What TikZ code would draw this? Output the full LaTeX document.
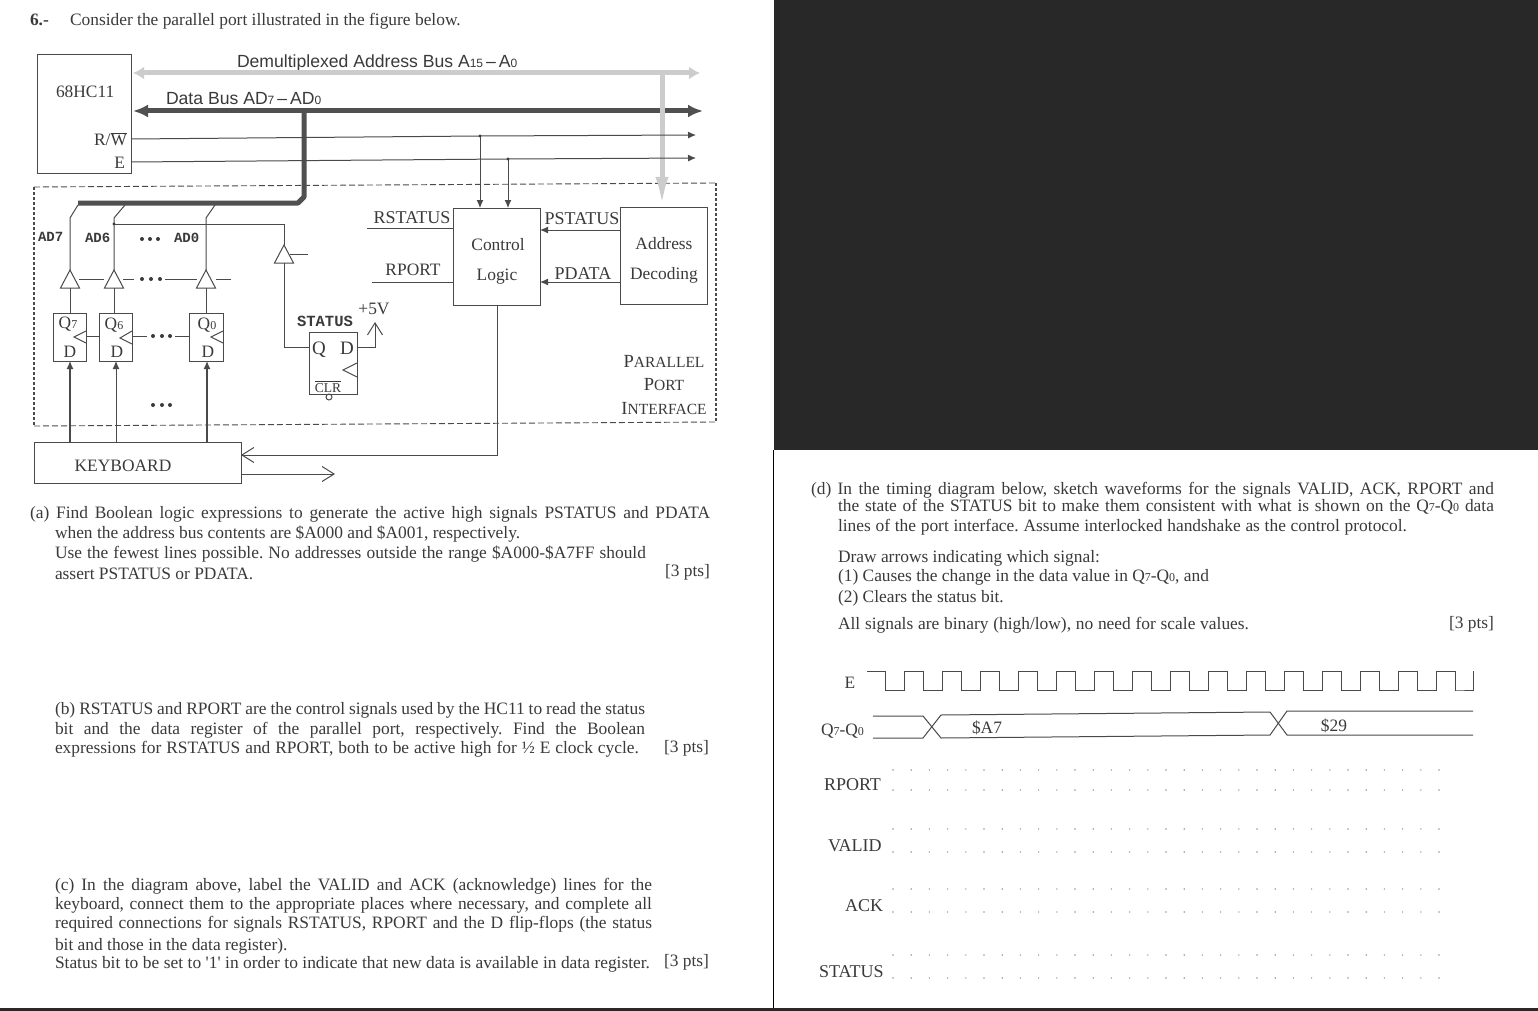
\documentclass[tikz,border=0pt]{standalone}
\usepackage{fontspec}
\setmainfont{Liberation Serif}
\setsansfont{Liberation Sans}
\setmonofont{Liberation Mono}
\usetikzlibrary{arrows.meta}
\definecolor{ink}{HTML}{3A3A3A}
\definecolor{lineg}{HTML}{4A4A4A}
\definecolor{addr}{HTML}{CCCCCC}
\definecolor{databus}{HTML}{505050}
\definecolor{panel}{HTML}{282828}
\newcommand{\body}{\frenchspacing\fontsize{17.4}{19}\selectfont}
\newcommand{\bigt}{\fontsize{18}{19}\selectfont}
\newcommand{\sm}[1]{{\fontsize{12}{12}\selectfont #1}}
\newcommand{\tl}[4]{\node[txt] (#1) at (#2,#3) {#4};}
\newcommand{\jl}[5]{\node[txt] (#1) at (#2,#3) {\hbox to #4pt{#5}};}
\newcommand{\rl}[4]{\node[txt,anchor=base east] (#1) at (#2,#3) {#4};}
\newcommand{\cl}[4]{\node[txt,anchor=base] (#1) at (#2,#3) {#4};}
\newcommand{\threedots}[3]{\foreach \dx in {#1,#2,#3}{\fill[ink] (\dx,\dotY) circle (2);}}
\newcommand{\dotrow}[1]{\foreach \k in {0,...,30}{\fill[black!40] (893+18.2*\k,#1) circle (.8);}}
\tikzset{
 txt/.style={anchor=base west,inner sep=0pt,outer sep=0pt,text=ink,font=\body},
 boxn/.style={draw=lineg,line width=1pt,inner sep=0pt,outer sep=0pt,anchor=north west},
 lin/.style={draw=lineg,line width=1pt},
 arr/.style={lin,-{Latex[length=8pt,width=7pt]}},
 openarr/.style={lin,-{Straight Barb[length=12pt,width=15pt,line width=1pt]}},
 sanslab/.style={txt,font=\sffamily\fontsize{17.6}{20}\selectfont},
 monolab/.style={txt,font=\ttfamily\bfseries\fontsize{14}{16}\selectfont},
 buslight/.style={draw=addr,line width=5pt},
 busdark/.style={draw=databus,line width=5pt},
}
\begin{document}
\begin{tikzpicture}[x=1pt,y=-1pt]
\useasboundingbox (0,0) rectangle (1538,1011);
\fill[white] (0,0) rectangle (1538,1011);
% page furniture
\fill[panel] (774,0) rectangle (1538,450);
\draw[black,line width=1pt] (773.5,450) -- (773.5,1008);
\fill[panel] (0,1008) rectangle (1538,1011);

% text, left column
\tl{q6}{30}{26}{\textbf{6.-}}
\tl{q6b}{70}{26}{Consider the parallel port illustrated in the figure below.}
\jl{a1}{30}{518}{680}{(a) Find Boolean logic expressions to generate the active high signals PSTATUS and PDATA}
\tl{a2}{55}{538}{when the address bus contents are \$A000 and \$A001, respectively.}
\jl{a3}{55}{558}{591}{Use the fewest lines possible. No addresses outside the range \$A000-\$A7FF should}
\tl{a4}{55}{579}{assert PSTATUS or PDATA.}
\rl{a5}{710}{576}{[3 pts]}
\jl{b1}{55}{714}{590}{(b) RSTATUS and RPORT are the control signals used by the HC11 to read the status}
\jl{b2}{55}{734}{590}{bit and the data register of the parallel port, respectively. Find the Boolean}
\jl{b3}{55}{753}{584}{expressions for RSTATUS and RPORT, both to be active high for ½ E clock cycle.}
\rl{b4}{709}{752}{[3 pts]}
\jl{c1}{55}{890}{597}{(c) In the diagram above, label the VALID and ACK (acknowledge) lines for the}
\jl{c2}{55}{909}{597}{keyboard, connect them to the appropriate places where necessary, and complete all}
\jl{c3}{55}{928}{597}{required connections for signals RSTATUS, RPORT and the D flip-flops (the status}
\tl{c4}{55}{950}{bit and those in the data register).}
\jl{c5}{55}{968}{595}{Status bit to be set to \textquotesingle 1\textquotesingle{} in order to indicate that new data is available in data register.}
\rl{c6}{709}{966}{[3 pts]}

% text, right column
\jl{d1}{811}{494}{683}{(d) In the timing diagram below, sketch waveforms for the signals VALID, ACK, RPORT and}
\jl{d2}{838}{511}{656}{the state of the STATUS bit to make them consistent with what is shown on the Q\sm{7}-Q\sm{0} data}
\jl{d3}{838}{531}{569}{lines of the port interface. Assume interlocked handshake as the control protocol.}
\tl{d4}{838}{562}{Draw arrows indicating which signal:}
\tl{d5}{838}{581}{(1) Causes the change in the data value in Q\sm{7}-Q\sm{0}, and}
\tl{d6}{838}{602}{(2) Clears the status bit.}
\jl{d7}{838}{629}{411}{All signals are binary (high/low), no need for scale values.}
\rl{d8}{1494}{628}{[3 pts]}

% timing diagram
\cl{tE}{850}{688}{E}
\tl{tQ}{821}{735}{Q\sm{7}-Q\sm{0}}
\cl{tA7}{987}{733}{\$A7}
\cl{t29}{1334}{731}{\$29}
\tl{tR}{824}{790}{\bigt RPORT}
\tl{tV}{828}{851}{\bigt VALID}
\tl{tK}{845}{911}{\bigt ACK}
\tl{tS}{819}{977}{\bigt STATUS}
\draw[lin] (867,671) -- (885,671)
 \foreach \k in {0,...,14}{ -- ({885+38.06*\k},690) -- ({904+38.06*\k},690) -- ({904+38.06*\k},671) -- ({923.06+38.06*\k},671) -- ({923.06+38.06*\k},690)}
 -- (1456,690) -- (1473,690) -- (1473,671);
\draw[lin] (873,716) -- (923,716) -- (941,738) -- (1270,735) -- (1287,711) -- (1473,711);
\draw[lin] (873,738) -- (923,738) -- (941,715) -- (1270,712) -- (1287,735) -- (1473,735);
\dotrow{770}\dotrow{790}\dotrow{829}\dotrow{852}\dotrow{889}\dotrow{912}\dotrow{955}\dotrow{978}

% dashed interface box
\draw[lineg,line width=.9pt,dash pattern=on 6pt off 3pt] (34,187) -- (716,183);
\draw[lineg,line width=.9pt,dash pattern=on 6pt off 3pt] (34,426) -- (716,422);
\draw[lineg,line width=1.1pt,dash pattern=on 3pt off 2pt] (34,187) -- (34,426);
\draw[lineg,line width=1.1pt,dash pattern=on 3pt off 2pt] (716,183) -- (716,422);

% main boxes
\node[boxn,minimum width=94pt,minimum height=119pt] (hc) at (37,55) {};
\node[boxn,minimum width=87pt,minimum height=97pt] (ctl) at (453,208) {};
\node[boxn,minimum width=87pt,minimum height=97pt] (dec) at (620,207) {};
\node[boxn,minimum width=207pt,minimum height=41pt] (kb) at (34,442) {};
\node[boxn,minimum width=48pt,minimum height=62pt] (st) at (309,332) {};
\node[boxn,minimum width=33pt,minimum height=48pt] (f7) at (53,313) {};
\node[boxn,minimum width=33pt,minimum height=48pt] (f6) at (99,313) {};
\node[boxn,minimum width=34pt,minimum height=48pt] (f0) at (189,313) {};

\tl{hcT}{56}{98}{68HC11}
\rl{rw}{127}{146}{R/$\overline{\mathrm{W}}$}
\rl{e}{125}{169}{E}
\cl{ctlA}{498}{250}{Control}
\cl{ctlB}{497}{280}{Logic}
\cl{decA}{664}{249}{Address}
\cl{decB}{664}{279}{Decoding}
\cl{kbT}{123}{471}{KEYBOARD}
\cl{rs}{412}{223}{\bigt RSTATUS}
\cl{rp}{413}{275}{RPORT}
\cl{ps}{582}{224}{\bigt PSTATUS}
\cl{pd}{583}{279}{\bigt PDATA}
\cl{ql7}{68}{328}{Q\sm{7}}
\cl{ql6}{114}{329}{Q\sm{6}}
\cl{ql0}{207}{329}{Q\sm{0}}
\cl{d7f}{70}{357}{D}
\cl{d6f}{117}{357}{D}
\cl{d0f}{208}{357}{D}
\cl{sq}{319}{354}{\fontsize{19}{20}\selectfont Q}
\cl{sd}{347}{354}{\fontsize{19}{20}\selectfont D}
\cl{v5}{374}{314}{+5V}
\node[txt,anchor=base,font=\fontsize{13.5}{14}\selectfont] (clr) at (328,392) {$\overline{\phantom{\mathrm{CLR}}}$\llap{CLR}};
\node[monolab,anchor=base,font=\ttfamily\bfseries\fontsize{15.5}{16}\selectfont] (stT) at (325,326) {STATUS};
\node[monolab] (ad7) at (38,241) {AD7};
\node[monolab] (ad6) at (85,242) {AD6};
\node[monolab] (ad0) at (174,242) {AD0};
\node[sanslab] (addrT) at (237,68) {Demultiplexed Address Bus A\sm{15}\,–\,A\sm{0}};
\node[sanslab] (dataT) at (166,105) {Data Bus AD\sm{7}\,–\,AD\sm{0}};
\cl{par}{664}{367}{{\fontsize{18.5}{18}\selectfont P}{\fontsize{15.5}{18}\selectfont ARALLEL}}
\cl{por}{664}{390}{{\fontsize{18.5}{18}\selectfont P}{\fontsize{15.5}{18}\selectfont ORT}}
\cl{int}{664}{414}{{\fontsize{18.5}{18}\selectfont I}{\fontsize{15.5}{18}\selectfont NTERFACE}}

% named points
\coordinate (dbR) at (703,111);
\coordinate (dbJ) at (304,111);
\coordinate (abR) at (700,73);
\coordinate (abJ) at (662,73);
\coordinate (rwR) at (696,135);
\coordinate (eR) at (696,158);
\coordinate (jrw) at (480,136);
\coordinate (je) at (508,159);

% buses
\draw[busdark,-{Latex[length=15pt,width=13pt]}] (dbJ) -- (133,111);
\draw[busdark,-{Latex[length=15pt,width=13pt]}] (dbJ) -- (dbR);
\draw[busdark,line join=round] (dbJ) -- (304,197) -- (298,203) -- (78,203);
\draw[buslight,-{Latex[length=11pt,width=13pt]}] (abJ) -- (133,73);
\draw[buslight,-{Latex[length=11pt,width=13pt]}] (abJ) -- (abR);
\draw[buslight,-{Latex[length=30pt,width=13pt]}] (abJ) -- (abJ |- dec.north);

% control lines
\draw[arr] (hc.east |- 0,139) -- (jrw) -- (rwR);
\draw[arr] (hc.east |- 0,162) -- (je) -- (eR);
\draw[arr] (jrw) -- (jrw |- ctl.north);
\draw[arr] (je) -- (je |- ctl.north);
\fill[ink] (jrw) circle (1.6) (je) circle (1.6);

\draw[lin] (ctl.west |- 0,228) -- (367,228);
\draw[lin] (ctl.west |- 0,282) -- (372,282);
\draw[arr] (dec.west |- 0,230) -- (ctl.east |- 0,230);
\draw[arr] (dec.west |- 0,282) -- (ctl.east |- 0,282);

% tristate buffers
\coordinate (t7) at (70,270);
\coordinate (t6) at (114,270);
\coordinate (t0) at (206,270);
\coordinate (ts) at (284,245);
\foreach \t in {t7,t6,t0,ts}{\draw[lin] (\t) -- ++(9.5,18) -- ++(-19,0) -- cycle;}
\draw[lin] (78,205) -- (70,218) -- (t7);
\draw[lin] (125,205) -- (114,218) -- (t6);
\draw[lin] (215,205) -- (206,218) -- (t0);
\coordinate (j6) at (114,224);
\fill[ink] (j6) circle (1.6);
\draw[lin] (j6) -- (ts |- j6) -- (ts);
\draw[lin] (290,254) -- (308,254);
\draw[lin] (ts) ++(0,18) |- (st.west |- 0,347);
% enable line
\draw[lin] (79,279) -- (104,279) (123,279) -- (134,279) (165,279) -- (197,279) (216,279) -- (231,279);
\def\dotY{279}\threedots{142}{151}{160}
\def\dotY{239}\threedots{142}{150}{158}
\def\dotY{336}\threedots{153}{162}{170}
\def\dotY{405}\threedots{153}{162}{170}
% buffer to FF
\draw[lin] (70,288) -- (70,313);
\draw[lin] (114,288) -- (114,313);
\draw[lin] (206,288) -- (206,313);
% clocks
\draw[lin] (86,331) -- (74,337) -- (86,343);
\draw[lin] (132,331) -- (120,338) -- (132,344);
\draw[lin] (223,331) -- (211,337) -- (223,343);
\draw[lin] (357,363) -- (343,370) -- (357,377);
\draw[lin] (86,336) -- (f6.west |- 0,336);
\draw[lin] (f6.east |- 0,336) -- (147,336);
\draw[lin] (175,336) -- (f0.west |- 0,336);
\draw[lin] (329,397) circle (3);
% keyboard to FF
\draw[arr,line width=1.2pt] (70,442) -- (70,361);
\draw[arr] (116,442) -- (116,361);
\draw[arr,line width=1.2pt] (207,442) -- (207,361);
% status D to +5V
\draw[openarr] (st.east |- 0,347) -| (375,322);
% keyboard handshake
\draw[openarr] (497,305) |- (kb.east |- 0,455);
\draw[openarr] (kb.east |- 0,474) -- (335,474);
\end{tikzpicture}
\end{document}
